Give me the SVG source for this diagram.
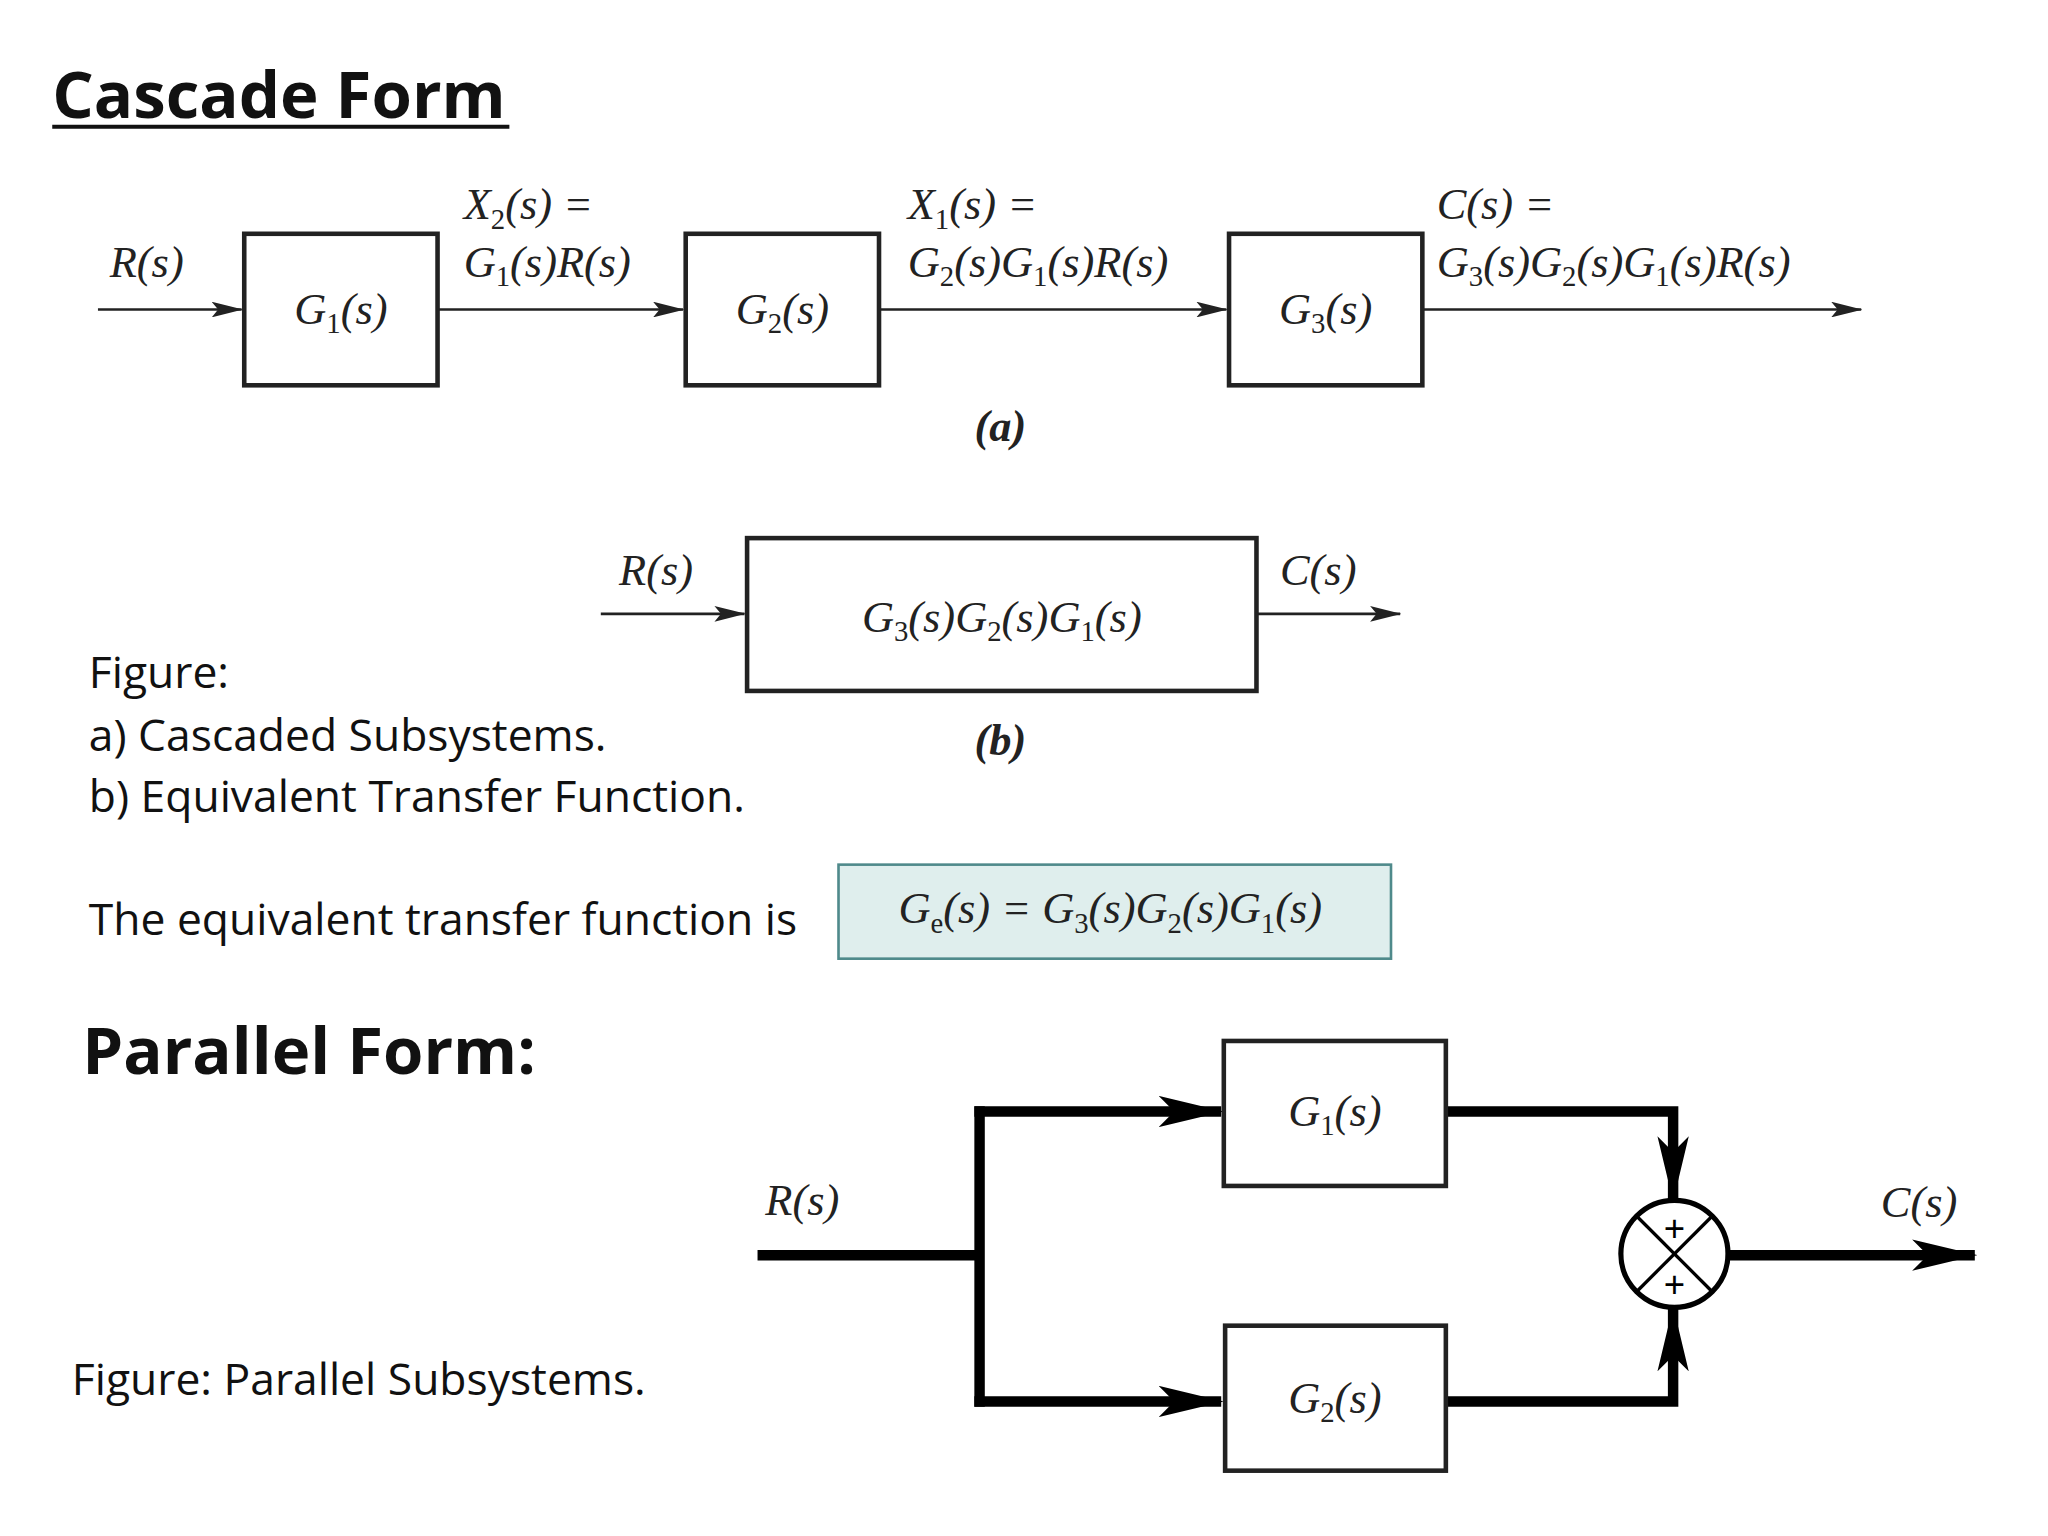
<svg xmlns="http://www.w3.org/2000/svg" width="2048" height="1536" viewBox="0 0 2048 1536">
<style>
.m{font-family:"Liberation Serif",serif;font-style:italic;font-size:34px;fill:#222}
.s{font-size:22px;font-style:normal}
.t{font-family:"Open Sans","Noto Sans",sans-serif;font-size:34px;fill:#111}
.h{font-family:"Open Sans","Noto Sans",sans-serif;font-weight:bold;font-size:50px;fill:#111}
.box{fill:#fff;stroke:#222;stroke-width:3.5}
.ln{stroke:#222;stroke-width:2;fill:none}
.tk{stroke:#000;stroke-width:8;fill:none}
</style>
<defs>
<marker id="a" markerWidth="24" markerHeight="12" refX="23" refY="6" orient="auto" markerUnits="userSpaceOnUse" viewBox="0 0 24 12"><path d="M0,0L24,6L0,12L5,6Z" fill="#222"/></marker>
<marker id="b" markerWidth="50" markerHeight="24" refX="48" refY="12" orient="auto" markerUnits="userSpaceOnUse" viewBox="0 0 50 24"><path d="M0,0L50,12L0,24L12,12Z" fill="#000"/></marker>
</defs>
<rect width="2048" height="1536" fill="#fff"/>
<g transform="scale(1.3061)">
<g id="titles">
<text class="h" x="40" y="90">Cascade Form</text>
<line x1="40" y1="97" x2="390" y2="97" stroke="#111" stroke-width="3"/>
<text class="h" x="63" y="822" font-size="52">Parallel Form:</text>
<text class="t" x="68" y="527">Figure:</text>
<text class="t" x="68" y="575">a) Cascaded Subsystems.</text>
<text class="t" x="68" y="622">b) Equivalent Transfer Function.</text>
<text class="t" x="68" y="716">The equivalent transfer function is</text>
<text class="t" x="55" y="1068">Figure: Parallel Subsystems.</text>
</g>
<g id="connectors">
<line class="ln" x1="75" y1="237" x2="185" y2="237" marker-end="url(#a)"/>
<line class="ln" x1="335" y1="237" x2="523" y2="237" marker-end="url(#a)"/>
<line class="ln" x1="673" y1="237" x2="939" y2="237" marker-end="url(#a)"/>
<line class="ln" x1="1089" y1="237" x2="1425" y2="237" marker-end="url(#a)"/>
<line class="ln" x1="460" y1="470" x2="570" y2="470" marker-end="url(#a)"/>
<line class="ln" x1="962" y1="470" x2="1072" y2="470" marker-end="url(#a)"/>
<line class="tk" x1="580" y1="961" x2="750" y2="961"/>
<line class="tk" x1="750" y1="847" x2="750" y2="1077"/>
<line class="tk" x1="746" y1="851" x2="935" y2="851" marker-end="url(#b)"/>
<line class="tk" x1="746" y1="1073" x2="935" y2="1073" marker-end="url(#b)"/>
<polyline class="tk" points="1107,851 1281,851 1281,918" marker-end="url(#b)"/>
<polyline class="tk" points="1107,1073 1281,1073 1281,1002" marker-end="url(#b)"/>
<line class="tk" x1="1323" y1="961" x2="1512" y2="961" marker-end="url(#b)"/>
</g>
<g id="G1a"><rect class="box" x="187" y="179" width="148" height="116"/><text class="m" x="261" y="248" text-anchor="middle">G<tspan class="s" dy="7">1</tspan><tspan dy="-7">(s)</tspan></text></g>
<g id="G2a"><rect class="box" x="525" y="179" width="148" height="116"/><text class="m" x="599" y="248" text-anchor="middle">G<tspan class="s" dy="7">2</tspan><tspan dy="-7">(s)</tspan></text></g>
<g id="G3a"><rect class="box" x="941" y="179" width="148" height="116"/><text class="m" x="1015" y="248" text-anchor="middle">G<tspan class="s" dy="7">3</tspan><tspan dy="-7">(s)</tspan></text></g>
<g id="labelsA">
<text class="m" x="84" y="212">R(s)</text>
<text class="m" x="355" y="168">X<tspan class="s" dy="7">2</tspan><tspan dy="-7">(s) =</tspan></text>
<text class="m" x="355" y="212">G<tspan class="s" dy="7">1</tspan><tspan dy="-7">(s)R(s)</tspan></text>
<text class="m" x="695" y="168">X<tspan class="s" dy="7">1</tspan><tspan dy="-7">(s) =</tspan></text>
<text class="m" x="695" y="212">G<tspan class="s" dy="7">2</tspan><tspan dy="-7">(s)G</tspan><tspan class="s" dy="7">1</tspan><tspan dy="-7">(s)R(s)</tspan></text>
<text class="m" x="1100" y="168">C(s) =</text>
<text class="m" x="1100" y="212">G<tspan class="s" dy="7">3</tspan><tspan dy="-7">(s)G</tspan><tspan class="s" dy="7">2</tspan><tspan dy="-7">(s)G</tspan><tspan class="s" dy="7">1</tspan><tspan dy="-7">(s)R(s)</tspan></text>
<text class="m" x="766" y="338" text-anchor="middle" font-weight="bold">(a)</text>
</g>
<g id="Gb"><rect class="box" x="572" y="412" width="390" height="117"/><text class="m" x="767" y="484" text-anchor="middle">G<tspan class="s" dy="7">3</tspan><tspan dy="-7">(s)G</tspan><tspan class="s" dy="7">2</tspan><tspan dy="-7">(s)G</tspan><tspan class="s" dy="7">1</tspan><tspan dy="-7">(s)</tspan></text></g>
<g id="labelsB">
<text class="m" x="474" y="448">R(s)</text>
<text class="m" x="980" y="448">C(s)</text>
<text class="m" x="766" y="578" text-anchor="middle" font-weight="bold">(b)</text>
</g>
<g id="eq"><rect x="642" y="662" width="423" height="72" fill="#dfeeed" stroke="#4f8a8b" stroke-width="2"/><text class="m" x="850" y="707" text-anchor="middle" fill="#333">G<tspan class="s" dy="7">e</tspan><tspan dy="-7">(s) = G</tspan><tspan class="s" dy="7">3</tspan><tspan dy="-7">(s)G</tspan><tspan class="s" dy="7">2</tspan><tspan dy="-7">(s)G</tspan><tspan class="s" dy="7">1</tspan><tspan dy="-7">(s)</tspan></text></g>
<g id="G1p"><rect class="box" x="937" y="797" width="170" height="111"/><text class="m" x="1022" y="862" text-anchor="middle" font-size="38">G<tspan class="s" dy="7">1</tspan><tspan dy="-7">(s)</tspan></text></g>
<g id="G2p"><rect class="box" x="938" y="1015" width="169" height="111"/><text class="m" x="1022" y="1082" text-anchor="middle" font-size="38">G<tspan class="s" dy="7">2</tspan><tspan dy="-7">(s)</tspan></text></g>
<g id="sum"><circle cx="1282" cy="960" r="41" fill="#fff" stroke="#000" stroke-width="4"/>
<line x1="1253" y1="931" x2="1311" y2="989" stroke="#000" stroke-width="2.5"/><line x1="1311" y1="931" x2="1253" y2="989" stroke="#000" stroke-width="2.5"/>
<text x="1282" y="950" text-anchor="middle" font-family="Liberation Sans,sans-serif" font-size="28">+</text>
<text x="1282" y="993" text-anchor="middle" font-family="Liberation Sans,sans-serif" font-size="28">+</text></g>
<g id="labelsP">
<text class="m" x="586" y="930" font-size="38">R(s)</text>
<text class="m" x="1440" y="932" font-size="38">C(s)</text>
</g>
</g>
</svg>
